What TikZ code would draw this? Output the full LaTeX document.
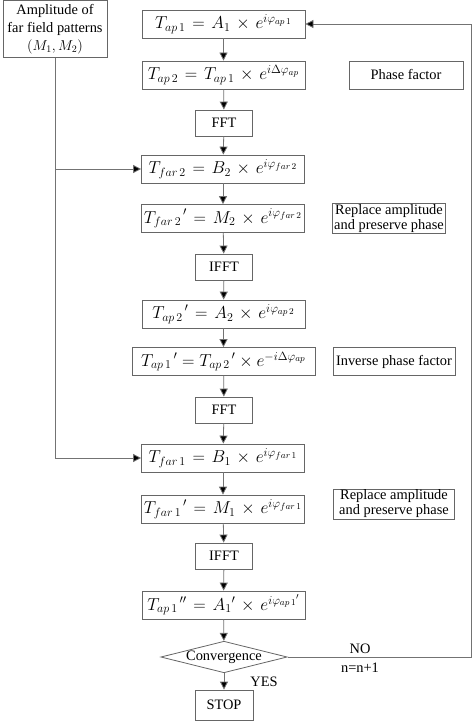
\documentclass[tikz,border=0pt]{standalone}
\usepackage{amsmath,amssymb}
\usepackage{fontspec}
\setmainfont{Liberation Serif}
\usetikzlibrary{arrows.meta,positioning,shapes.geometric}
\DeclareMathSizes{16.5}{16.5}{12.5}{9.5}
\DeclareMathSizes{16}{16}{12}{9}
\newcommand{\eqfont}{\fontsize{16.5}{19}\selectfont\thickmuskip=7mu\relax\medmuskip=6mu\relax}
\newcommand{\eqfontsm}{\fontsize{16}{19}\selectfont\thickmuskip=5mu\relax\medmuskip=4mu\relax}

\begin{document}
\begin{tikzpicture}[
  x=1pt,y=-1pt,
  font=\Large,
  line/.style={draw=black!55,line width=0.8pt},
  arr/.style={line,-{Triangle[length=8pt,width=8pt,fill=black]}},
  eqbox/.style={rectangle,draw=black!60,line width=0.8pt,minimum width=163pt,minimum height=28pt,inner sep=2pt,font=\eqfont},
  opbox/.style={rectangle,draw=black!60,line width=0.8pt,minimum width=57pt,minimum height=26pt,inner sep=2pt},
  notebox/.style={rectangle,draw=black!60,line width=0.8pt,minimum height=28pt,inner xsep=2pt,inner ysep=1pt,align=center}
]
  \useasboundingbox (0,0) rectangle (474,722);

  \node[rectangle,draw=black!60,line width=0.8pt,minimum width=104pt,minimum height=57pt,align=center,inner sep=1pt] (amp) at (55,29) {
    Amplitude of\\
    far field patterns\\
    $(M_1,M_2)$
  };

  \node[eqbox] (tap1) at (223.5,24) {$T_{ap\,1} = A_1 \times e^{i\varphi_{ap\,1}}$};
  \node[eqbox] (tap2) at (223.5,75) {$T_{ap\,2} = T_{ap\,1} \times e^{i\Delta\varphi_{ap}}$};
  \node[opbox] (fft1) at (224,123) {FFT};
  \node[eqbox] (tfar2) at (223,169) {$T_{far\,2} = B_2 \times e^{i\varphi_{far\,2}}$};
  \node[eqbox] (tfar2p) at (223,218.5) {${T_{far\,2}}^{\,\prime} = M_2 \times e^{i\varphi_{far\,2}}$};
  \node[opbox] (ifft1) at (224,267) {IFFT};
  \node[eqbox] (tap2p) at (223.5,314) {${T_{ap\,2}}^{\,\prime} = A_2 \times e^{i\varphi_{ap\,2}}$};
  \node[eqbox,minimum width=183pt,font=\eqfontsm] (tap1p) at (223.5,361.5) {${T_{ap\,1}}^{\,\prime} = {T_{ap\,2}}^{\,\prime} \times e^{-i\Delta\varphi_{ap}}$};
  \node[opbox] (fft2) at (224,410) {FFT};
  \node[eqbox] (tfar1) at (223,458) {$T_{far\,1} = B_1 \times e^{i\varphi_{far\,1}}$};
  \node[eqbox] (tfar1p) at (223,509) {${T_{far\,1}}^{\,\prime} = M_1 \times e^{i\varphi_{far\,1}}$};
  \node[opbox] (ifft2) at (224,556) {IFFT};
  \node[eqbox] (tap1pp) at (223.5,605) {${T_{ap\,1}}^{\,\prime\prime} = {A_1}^{\prime} \times e^{i{\varphi_{ap\,1}}^{\prime}}$};
  \node[diamond,draw=black!60,line width=0.8pt,inner sep=0pt,aspect=4,minimum width=125pt,minimum height=31pt] (conv) at (224,657) {Convergence};
  \node[opbox,minimum width=58pt,minimum height=30pt] (stop) at (224,705) {STOP};

  \node[notebox,minimum width=114pt] (phase) at (406,75) {Phase factor};
  \node[notebox,minimum width=112pt] (repl2) at (389,218.5) {Replace amplitude\\[-3pt]and preserve phase};
  \node[notebox,minimum width=122pt] (invph) at (394,361.5) {Inverse phase factor};
  \node[notebox,minimum width=121pt] (repl1) at (394,504) {Replace amplitude\\[-3pt]and preserve phase};

  \node (no) at (360,649) {NO};
  \node (incr) at (360,668) {n=n+1};
  \node (yes) at (264,682) {YES};

  \draw[arr] (tap1) -- (tap2);
  \draw[arr] (tap2) -- (fft1);
  \draw[arr] (fft1) -- (tfar2);
  \draw[arr] (tfar2) -- (tfar2p);
  \draw[arr] (tfar2p) -- (ifft1);
  \draw[arr] (ifft1) -- (tap2p);
  \draw[arr] (tap2p) -- (tap1p);
  \draw[arr] (tap1p) -- (fft2);
  \draw[arr] (fft2) -- (tfar1);
  \draw[arr] (tfar1) -- (tfar1p);
  \draw[arr] (tfar1p) -- (ifft2);
  \draw[arr] (ifft2) -- (tap1pp);
  \draw[arr] (tap1pp) -- (conv);
  \draw[arr] (conv) -- (stop);

  \draw[arr] (amp.south) |- (tfar1.west);
  \draw[arr] (amp.south |- tfar2.west) -- (tfar2.west);

  \coordinate (back) at (471,657);
  \draw[arr] (conv.east) -- (back) |- (tap1.east);
\end{tikzpicture}
\end{document}
